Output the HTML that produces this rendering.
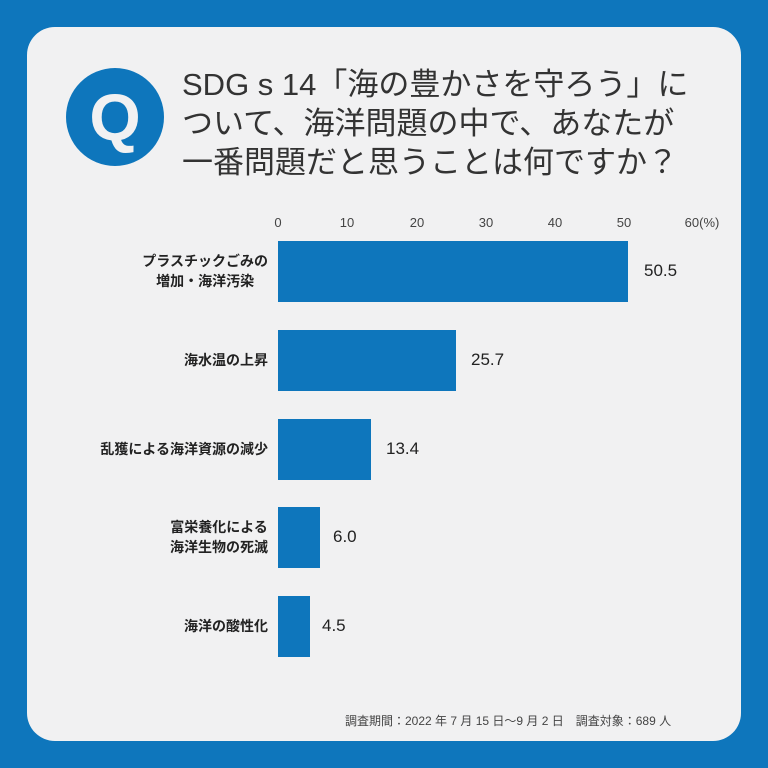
<!DOCTYPE html>
<html><head><meta charset="utf-8"><style>
html,body{margin:0;padding:0}
body{width:768px;height:768px;background:#0e76bc;position:relative;overflow:hidden;font-family:"Liberation Sans","Noto Sans CJK JP",sans-serif;color:#333}
.card{position:absolute;left:27px;top:27px;width:714px;height:714px;background:#f1f1f2;border-radius:28px}
.q{position:absolute;left:66px;top:68px;width:98px;height:98px;border-radius:50%;background:#0e76bc;color:#f1f1f2;font-weight:bold;font-size:66px;line-height:98px;text-align:center}
.t{position:absolute;left:182px;top:65px;font-size:31px;line-height:39px;color:#333;white-space:nowrap}
.tick{position:absolute;top:215px;font-size:13px;color:#444;transform:translateX(-50%)}
.bar{position:absolute;left:278px;height:61px;background:#0e76bc}
.val{position:absolute;font-size:17px;color:#222}
.lab{position:absolute;right:500px;font-size:14px;line-height:20px;text-align:center;color:#222;white-space:nowrap;font-weight:bold}
.foot{position:absolute;left:345px;top:712px;font-size:12px;color:#444;white-space:nowrap}
</style></head><body>
<div class="card"></div>
<div class="q">Q</div>
<div class="t">SDG s 14「海の豊かさを守ろう」に<br>ついて、海洋問題の中で、あなたが<br>一番問題だと思うことは何ですか？</div>
<div class="tick" style="left:278px">0</div>
<div class="tick" style="left:347px">10</div>
<div class="tick" style="left:417px">20</div>
<div class="tick" style="left:486px">30</div>
<div class="tick" style="left:555px">40</div>
<div class="tick" style="left:624px">50</div>
<div class="tick" style="left:702px">60(%)</div>

<div class="bar" style="top:241px;width:350px"></div>
<div class="val" style="left:644px;top:261px">50.5</div>
<div class="lab" style="top:251px">プラスチックごみの<br>増加・海洋汚染</div>

<div class="bar" style="top:330px;width:178px"></div>
<div class="val" style="left:471px;top:350px">25.7</div>
<div class="lab" style="top:350px">海水温の上昇</div>

<div class="bar" style="top:419px;width:93px"></div>
<div class="val" style="left:386px;top:439px">13.4</div>
<div class="lab" style="top:439px">乱獲による海洋資源の減少</div>

<div class="bar" style="top:507px;width:42px"></div>
<div class="val" style="left:333px;top:527px">6.0</div>
<div class="lab" style="top:517px">富栄養化による<br>海洋生物の死滅</div>

<div class="bar" style="top:596px;width:32px"></div>
<div class="val" style="left:322px;top:616px">4.5</div>
<div class="lab" style="top:616px">海洋の酸性化</div>

<div class="foot">調査期間：2022 年 7 月 15 日〜9 月 2 日　調査対象：689 人</div>
</body></html>
